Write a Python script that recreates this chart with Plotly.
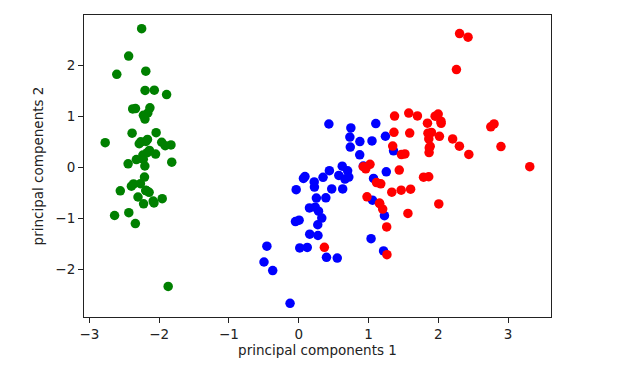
import plotly.graph_objects as go

setosa_pc1 = [-2.264542, -2.086426, -2.367950, -2.304197, -2.388777, -2.070537, -2.445711, -2.233842, -2.341958, -2.188676,
              -2.163487, -2.327378, -2.224083, -2.639716, -2.192292, -2.251653, -2.202750, -2.190179, -1.894074, -2.339949,
              -1.914556, -2.204649, -2.774165, -1.820411, -2.228217, -1.957025, -2.052063, -2.168195, -2.140308, -2.268792,
              -2.144943, -1.831694, -2.608200, -2.437951, -2.188676, -2.211112, -2.044416, -2.188676, -2.435955, -2.170545,
              -2.286475, -1.871705, -2.557834, -1.964272, -2.133371, -2.075358, -2.380253, -2.398196, -2.226784, -2.205954]
setosa_pc2 = [0.505704, -0.655405, -0.318477, -0.575368, 0.674767, 1.518549, 0.074563, 0.247614, -1.095146, -0.448629,
              1.070596, 0.158587, -0.709118, -0.938282, 1.889979, 2.722371, 1.513750, 0.514304, 1.431111, 1.158033,
              0.430465, 0.952457, 0.489517, 0.106751, 0.162186, -0.607893, 0.266014, 0.552016, 0.336640, -0.314878,
              -0.483942, 0.445267, 1.828475, 2.185391, -0.448629, -0.184338, 0.684956, -0.448629, -0.882169, 0.292727,
              0.467991, -2.327697, -0.453816, 0.497392, 1.171432, -0.691917, 1.150633, -0.362390, 1.025482, 0.032238]

versicolor_pc1 = [1.103994, 0.732481, 1.242109, 0.397307, 1.071594, 0.388208, 0.746681, -0.498337, 0.924860, 0.004968,
                  -0.124698, 0.438731, 0.551634, 0.717165, -0.037258, 0.875891, 0.348006, 0.153393, 1.215309, 0.156941,
                  0.738256, 0.472369, 1.227988, 0.629381, 0.700472, 0.873536, 1.254222, 1.358405, 0.662127, -0.047282,
                  0.121535, 0.014118, 0.236010, 1.056691, 0.221417, 0.431783, 1.049416, 1.036104, 0.067068, 0.275425,
                  0.272335, 0.623171, 0.330005, -0.373628, 0.282945, 0.089053, 0.224357, 0.573884, -0.457013, 0.252244]
versicolor_pc2 = [0.863112, 0.598636, 0.614822, -1.758169, -0.211758, -0.591447, 0.776949, -1.849244, 0.030999, -1.029410,
                  -2.658063, -0.058881, -1.772582, -0.185434, -0.432795, 0.509999, -0.190622, -0.790725, -1.633356, -1.303310,
                  0.402470, -0.416608, -0.940915, -0.416811, -0.063495, 0.250709, -0.082620, 0.328820, -0.224346, -1.057217,
                  -1.563592, -1.573392, -0.775923, -0.636902, -0.280848, 0.855137, 0.522197, -1.392464, -0.212621, -1.329816,
                  -1.119440, 0.027543, -0.988901, -2.017932, -0.853951, -0.174909, -0.380484, -0.153720, -1.539465, -0.595861]

virginica_pc1 = [1.844568, 1.157882, 2.205266, 1.440151, 1.867812, 2.751873, 0.366925, 2.302439, 2.006866, 2.259775,
                 1.364170, 1.602671, 1.883881, 1.260151, 1.467645, 1.590077, 1.471431, 2.426324, 3.310696, 1.263767,
                 2.037713, 0.977980, 2.897651, 1.333390, 1.700340, 1.954326, 1.175104, 1.020951, 1.788342, 1.863648,
                 2.437350, 2.304924, 1.862702, 1.114278, 1.202675, 2.798771, 1.576256, 1.346297, 0.924325, 1.852046,
                 2.016152, 1.901784, 1.157882, 2.040558, 1.998147, 1.870503, 1.564580, 1.521170, 1.372788, 0.960656]
virginica_pc2 = [0.871696, -0.698870, 0.562010, -0.046988, 0.295045, 0.800410, -1.561503, 0.420066, -0.711439, 1.921010,
                 0.692757, -0.421702, 0.419249, -1.162260, -0.442272, 0.676245, 0.255627, 2.556661, 0.017781, -1.706746,
                 0.910467, -0.571764, 0.413645, -0.481811, 1.013922, 1.007778, -0.316395, 0.064346, -0.187361, 0.562291,
                 0.258284, 2.626325, -0.178540, -0.292922, -0.811317, 0.856803, 1.068580, 0.422431, 0.017224, 0.676128,
                 0.613974, 0.689575, -0.698870, 0.867521, 1.049169, 0.386966, -0.896687, 0.269069, 1.011254, -0.024332]

x_ticks = [-3, -2, -1, 0, 1, 2, 3]
y_ticks = [-2, -1, 0, 1, 2]

fig = go.Figure()
for xs, ys, col in [(setosa_pc1, setosa_pc2, "#008000"),
                    (versicolor_pc1, versicolor_pc2, "#0000ff"),
                    (virginica_pc1, virginica_pc2, "#ff0000")]:
    fig.add_trace(go.Scatter(x=xs, y=ys, mode="markers",
                             marker=dict(color=col, size=9.5, line=dict(width=0)),
                             showlegend=False))

font = dict(family="DejaVu Sans", size=13.5, color="#222222")
axis_common = dict(showline=True, mirror=True, linecolor="#222222", linewidth=1.1,
                   showgrid=False, zeroline=False, ticks="outside", ticklen=5,
                   tickcolor="#222222", tickwidth=1.1, automargin=False,
                   tickfont=font)

# page body has an 8px margin, so the figure is sized and offset to fit the 623x377 window
fig.update_layout(
    width=607, height=361,
    margin=dict(l=76, r=64, t=7, b=52),
    paper_bgcolor="white", plot_bgcolor="white",
    font=font,
    xaxis=dict(range=[-3.078, 3.615], tickvals=x_ticks,
               title=dict(text="principal components 1", standoff=4, font=font),
               **axis_common),
    yaxis=dict(range=[-2.927, 2.991], tickvals=y_ticks,
               title=dict(text="principal compenents 2", standoff=8, font=font),
               **axis_common),
)

fig.write_html("out.html")
